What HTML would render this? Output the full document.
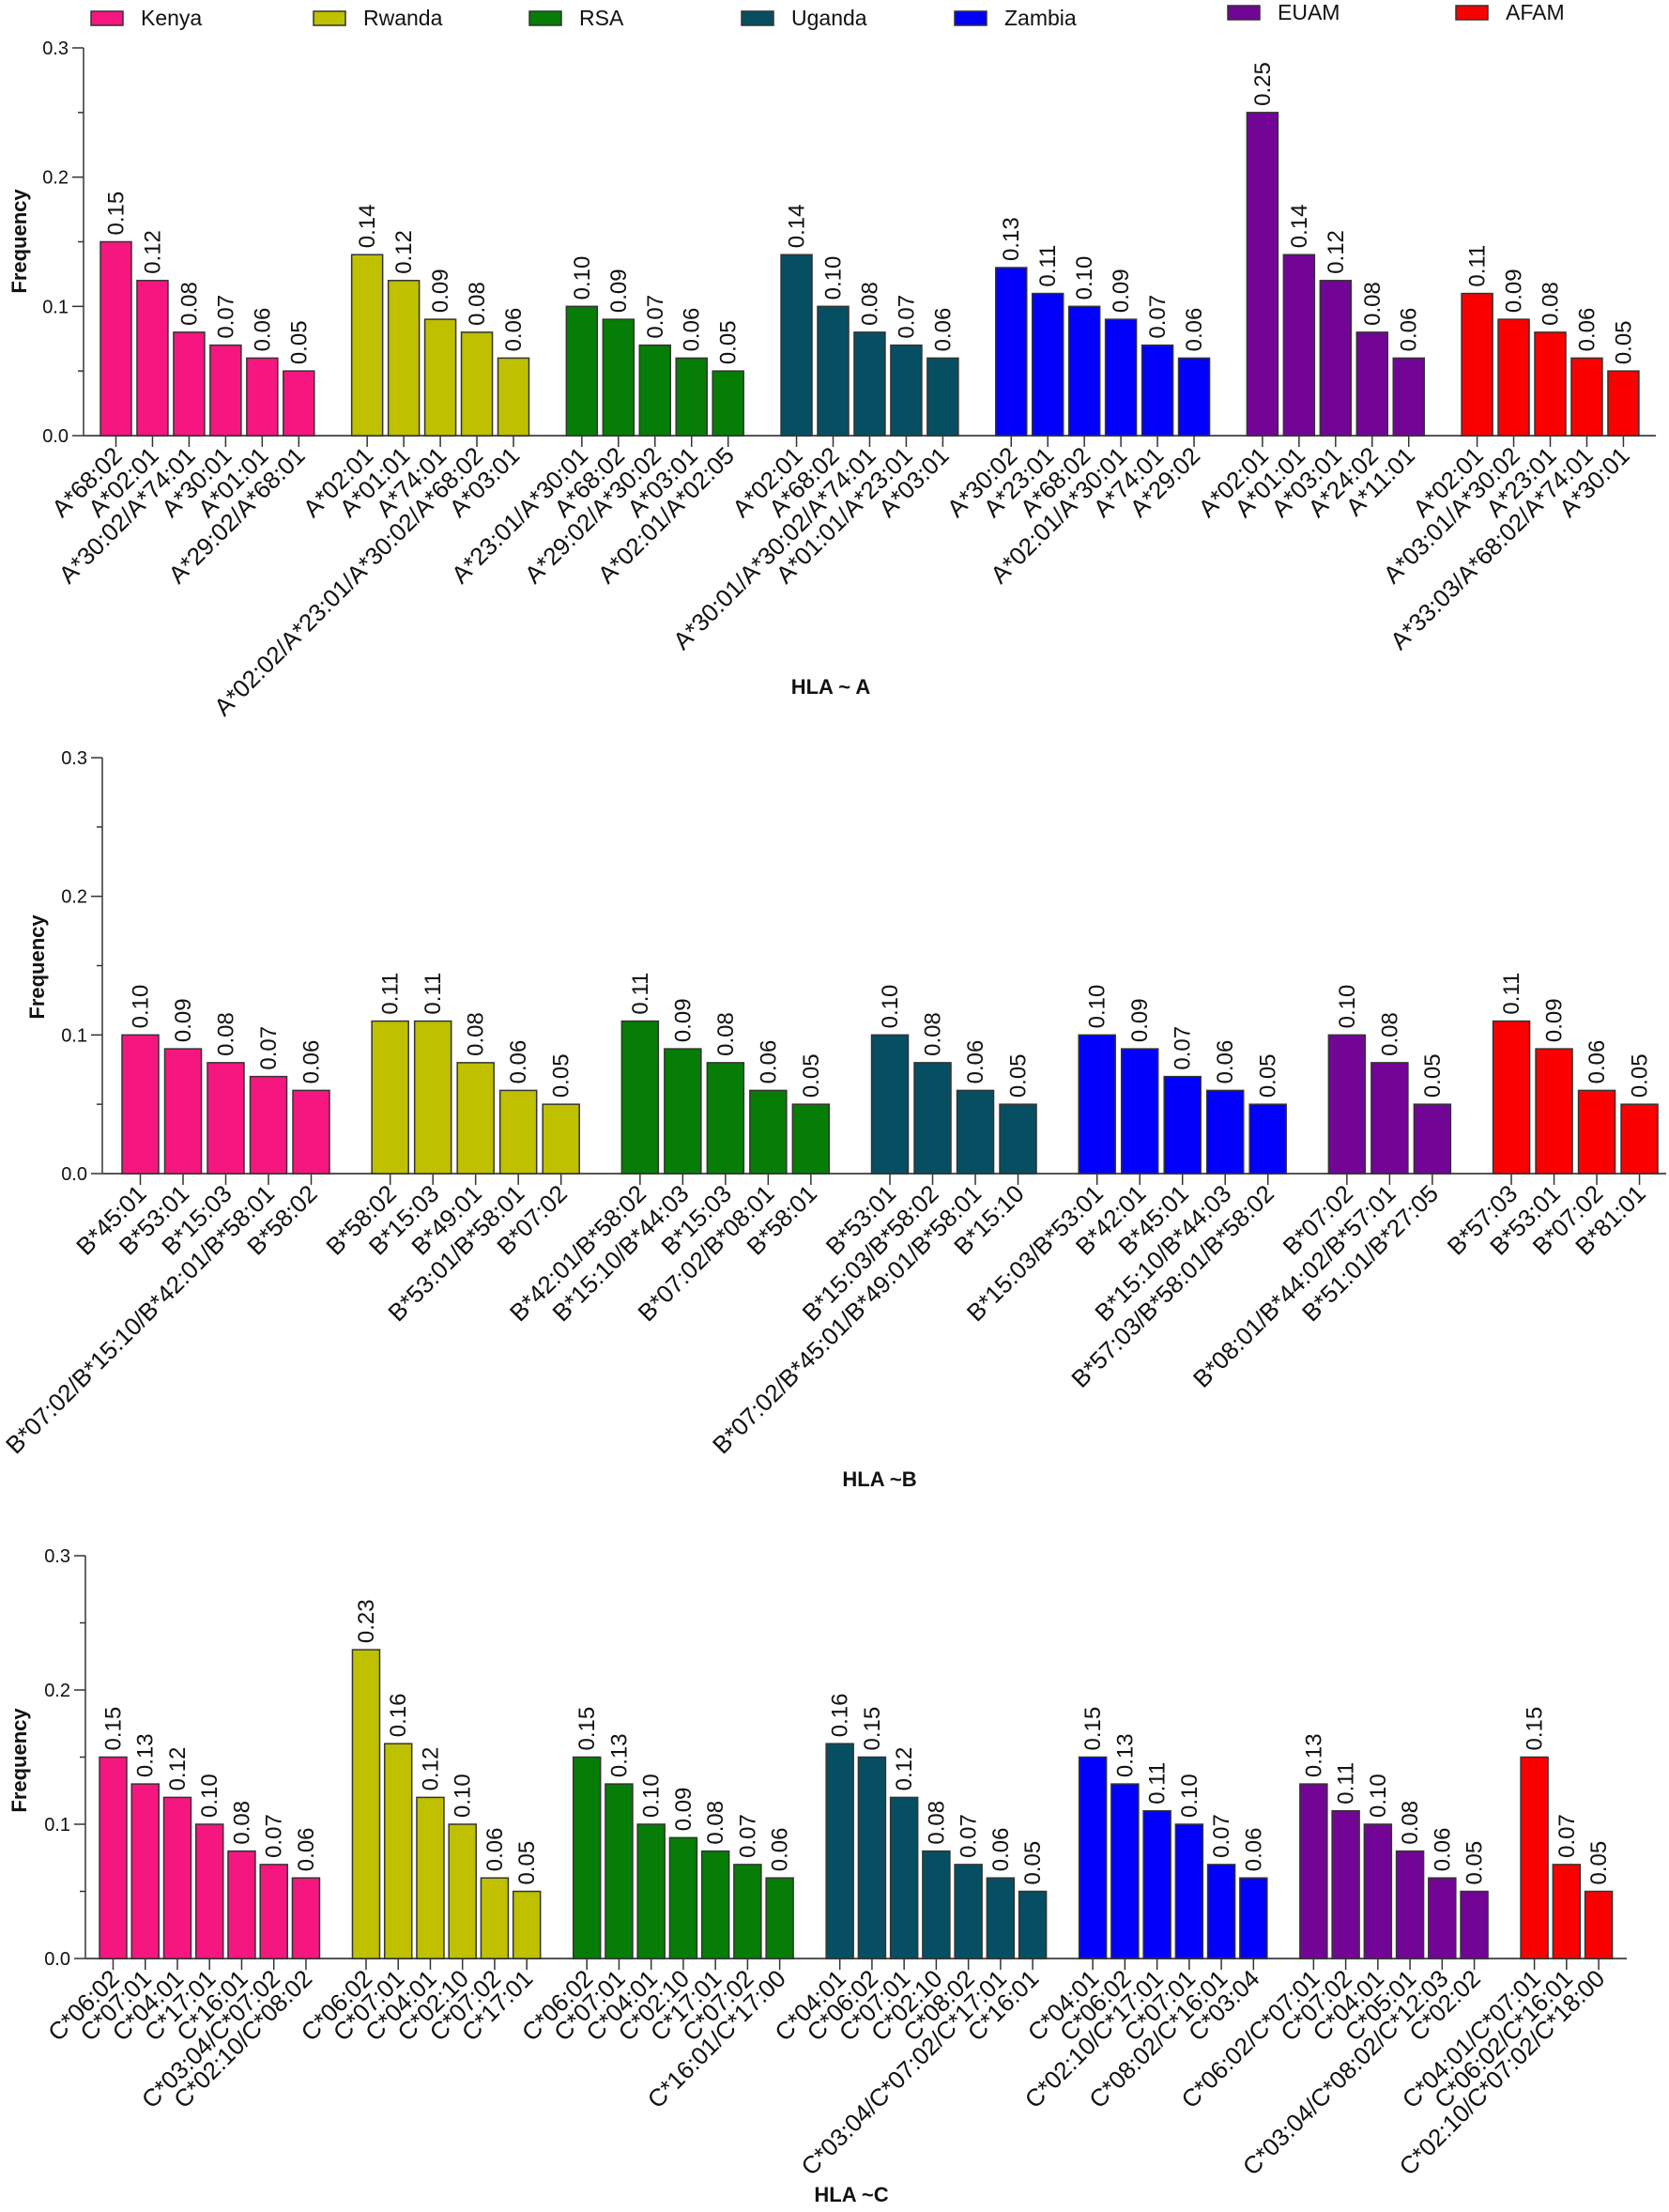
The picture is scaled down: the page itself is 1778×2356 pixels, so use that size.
<!DOCTYPE html>
<html>
<head>
<meta charset="utf-8">
<style>
  html,body{margin:0;padding:0;background:#fff;}
  svg{display:block;}
  text{font-family:"Liberation Sans",Arial,sans-serif;fill:#111;}
</style>
</head>
<body>
<svg id="chart" width="1778" height="2356" viewBox="0 0 1778 2356" xmlns="http://www.w3.org/2000/svg">
  <g id="legend"></g>
  <g id="panelA"></g>
  <g id="panelB"></g>
  <g id="panelC"></g>
</svg>
<script>
// ---------- shared data ----------
const populations = ["Kenya","Rwanda","RSA","Uganda","Zambia","EUAM","AFAM"];
const popColors = ["#f5177f","#bfc000","#067d06","#064f63","#0000fb","#720596","#fc0000"];
const yTickValues = [0.0, 0.1, 0.2, 0.3];
const yTickLabels = ["0.0","0.1","0.2","0.3"];

// ---------- HLA-A ----------
const aKenyaLabels = ["A*68:02","A*02:01","A*30:02/A*74:01","A*30:01","A*01:01","A*29:02/A*68:01"];
const aKenyaValues = [0.15,0.12,0.08,0.07,0.06,0.05];
const aRwandaLabels = ["A*02:01","A*01:01","A*74:01","A*02:02/A*23:01/A*30:02/A*68:02","A*03:01"];
const aRwandaValues = [0.14,0.12,0.09,0.08,0.06];
const aRSALabels = ["A*23:01/A*30:01","A*68:02","A*29:02/A*30:02","A*03:01","A*02:01/A*02:05"];
const aRSAValues = [0.10,0.09,0.07,0.06,0.05];
const aUgandaLabels = ["A*02:01","A*68:02","A*30:01/A*30:02/A*74:01","A*01:01/A*23:01","A*03:01"];
const aUgandaValues = [0.14,0.10,0.08,0.07,0.06];
const aZambiaLabels = ["A*30:02","A*23:01","A*68:02","A*02:01/A*30:01","A*74:01","A*29:02"];
const aZambiaValues = [0.13,0.11,0.10,0.09,0.07,0.06];
const aEUAMLabels = ["A*02:01","A*01:01","A*03:01","A*24:02","A*11:01"];
const aEUAMValues = [0.25,0.14,0.12,0.08,0.06];
const aAFAMLabels = ["A*02:01","A*03:01/A*30:02","A*23:01","A*33:03/A*68:02/A*74:01","A*30:01"];
const aAFAMValues = [0.11,0.09,0.08,0.06,0.05];

// ---------- HLA-B ----------
const bKenyaLabels = ["B*45:01","B*53:01","B*15:03","B*07:02/B*15:10/B*42:01/B*58:01","B*58:02"];
const bKenyaValues = [0.10,0.09,0.08,0.07,0.06];
const bRwandaLabels = ["B*58:02","B*15:03","B*49:01","B*53:01/B*58:01","B*07:02"];
const bRwandaValues = [0.11,0.11,0.08,0.06,0.05];
const bRSALabels = ["B*42:01/B*58:02","B*15:10/B*44:03","B*15:03","B*07:02/B*08:01","B*58:01"];
const bRSAValues = [0.11,0.09,0.08,0.06,0.05];
const bUgandaLabels = ["B*53:01","B*15:03/B*58:02","B*07:02/B*45:01/B*49:01/B*58:01","B*15:10"];
const bUgandaValues = [0.10,0.08,0.06,0.05];
const bZambiaLabels = ["B*15:03/B*53:01","B*42:01","B*45:01","B*15:10/B*44:03","B*57:03/B*58:01/B*58:02"];
const bZambiaValues = [0.10,0.09,0.07,0.06,0.05];
const bEUAMLabels = ["B*07:02","B*08:01/B*44:02/B*57:01","B*51:01/B*27:05"];
const bEUAMValues = [0.10,0.08,0.05];
const bAFAMLabels = ["B*57:03","B*53:01","B*07:02","B*81:01"];
const bAFAMValues = [0.11,0.09,0.06,0.05];

// ---------- HLA-C ----------
const cKenyaLabels = ["C*06:02","C*07:01","C*04:01","C*17:01","C*16:01","C*03:04/C*07:02","C*02:10/C*08:02"];
const cKenyaValues = [0.15,0.13,0.12,0.10,0.08,0.07,0.06];
const cRwandaLabels = ["C*06:02","C*07:01","C*04:01","C*02:10","C*07:02","C*17:01"];
const cRwandaValues = [0.23,0.16,0.12,0.10,0.06,0.05];
const cRSALabels = ["C*06:02","C*07:01","C*04:01","C*02:10","C*17:01","C*07:02","C*16:01/C*17:00"];
const cRSAValues = [0.15,0.13,0.10,0.09,0.08,0.07,0.06];
const cUgandaLabels = ["C*04:01","C*06:02","C*07:01","C*02:10","C*08:02","C*03:04/C*07:02/C*17:01","C*16:01"];
const cUgandaValues = [0.16,0.15,0.12,0.08,0.07,0.06,0.05];
const cZambiaLabels = ["C*04:01","C*06:02","C*02:10/C*17:01","C*07:01","C*08:02/C*16:01","C*03:04"];
const cZambiaValues = [0.15,0.13,0.11,0.10,0.07,0.06];
const cEUAMLabels = ["C*06:02/C*07:01","C*07:02","C*04:01","C*05:01","C*03:04/C*08:02/C*12:03","C*02:02"];
const cEUAMValues = [0.13,0.11,0.10,0.08,0.06,0.05];
const cAFAMLabels = ["C*04:01/C*07:01","C*06:02/C*16:01","C*02:10/C*07:02/C*18:00"];
const cAFAMValues = [0.15,0.07,0.05];

const NS = "http://www.w3.org/2000/svg";
function mk(tag, attrs, parent){
  const el = document.createElementNS(NS, tag);
  for (const k in attrs) el.setAttribute(k, attrs[k]);
  parent.appendChild(el);
  return el;
}

// ---------- legend ----------
const legendG = document.getElementById('legend');
const legendSwatchX = [97,334,564,790,1017,1308,1551];
const legendSwatchY = [12,12,12,12,12,6,6];
populations.forEach((p,i)=>{
  const g = mk('g',{},legendG);
  
  
  const r = mk('rect',{x:legendSwatchX[i],y:legendSwatchY[i],width:34,height:15,fill:popColors[i],stroke:'#333','stroke-width':1.5},g);
  
  
  const t = mk('text',{x:legendSwatchX[i]+53,y:legendSwatchY[i]+15,'font-size':23},g);
  
  
  t.textContent = p;
});

// ---------- panel renderer ----------
function drawPanel(gid, key, groupsLabels, groupsValues, L){
  const root = document.getElementById(gid);
  const yScale = v => L.y0 - (v/0.3)*(L.y0 - L.yTop);
  const ya = mk('line',{x1:L.axisX,y1:L.yTop,x2:L.axisX,y2:L.y0,stroke:'#333','stroke-width':1.5},root);
  
  
  yTickValues.forEach((v,i)=>{
    const y = yScale(v);
    mk('line',{x1:L.axisX-12,y1:y,x2:L.axisX,y2:y,stroke:'#333','stroke-width':1.5},root);
    const t = mk('text',{x:L.axisX-16,y:y+7,'font-size':20,'text-anchor':'end'},root);
    
    
    t.textContent = yTickLabels[i];
    if (i < yTickValues.length-1){
      const ym = yScale(v+0.05);
      mk('line',{x1:L.axisX-6,y1:ym,x2:L.axisX,y2:ym,stroke:'#333','stroke-width':1.5},root);
    }
  });
  const xa = mk('line',{x1:L.axisX,y1:L.y0,x2:L.axisEnd,y2:L.y0,stroke:'#555','stroke-width':2},root);
  
  
  const yt = mk('text',{x:L.freqX,y:L.freqY,'font-size':22,'font-weight':'bold','text-anchor':'middle',transform:`rotate(-90 ${L.freqX} ${L.freqY})`},root);
  
  
  yt.textContent = 'Frequency';
  const xt = mk('text',{x:L.titleX,y:L.titleY,'font-size':22,'font-weight':'bold','text-anchor':'middle'},root);
  
  
  xt.textContent = L.title;

  let idx = 0;
  groupsValues.forEach((vals, gi)=>{
    const gg = mk('g',{},root);
    
    
    vals.forEach((v, bi)=>{
      const left = L.firstLeft + (idx + gi*L.gap) * L.pitch;
      const cx = left + L.w/2;
      const top = yScale(v);
      const bar = mk('rect',{x:left,y:top,width:L.w,height:L.y0-top,fill:popColors[gi],stroke:'#333','stroke-width':1.5},gg);
      
      
      mk('line',{x1:cx,y1:L.y0,x2:cx,y2:L.y0+12,stroke:'#333','stroke-width':1.5},gg);
      const vl = mk('text',{x:cx+8,y:top-7,'font-size':24,transform:`rotate(-90 ${cx+8} ${top-7})`},gg);
      
      
      vl.textContent = v.toFixed(2);
      const lx = cx + 8, ly = L.y0 + 23;
      const tl = mk('text',{x:lx,y:ly,'font-size':26,'text-anchor':'end',transform:`rotate(-45 ${lx} ${ly})`},gg);
      
      
      tl.textContent = groupsLabels[gi][bi];
      idx++;
    });
  });
}

drawPanel('panelA','hla-a',
  [aKenyaLabels,aRwandaLabels,aRSALabels,aUgandaLabels,aZambiaLabels,aEUAMLabels,aAFAMLabels],
  [aKenyaValues,aRwandaValues,aRSAValues,aUgandaValues,aZambiaValues,aEUAMValues,aAFAMValues],
  {axisX:89,axisEnd:1764,yTop:51,y0:464,firstLeft:107,pitch:38.96,w:33,gap:0.87,
   freqX:28,freqY:257,titleX:885,titleY:739,title:'HLA ~ A'});

drawPanel('panelB','hla-b',
  [bKenyaLabels,bRwandaLabels,bRSALabels,bUgandaLabels,bZambiaLabels,bEUAMLabels,bAFAMLabels],
  [bKenyaValues,bRwandaValues,bRSAValues,bUgandaValues,bZambiaValues,bEUAMValues,bAFAMValues],
  {axisX:109,axisEnd:1775,yTop:807,y0:1250,firstLeft:130,pitch:45.5,w:39,gap:0.85,
   freqX:47,freqY:1030,titleX:937,titleY:1583,title:'HLA ~B'});

drawPanel('panelC','hla-c',
  [cKenyaLabels,cRwandaLabels,cRSALabels,cUgandaLabels,cZambiaLabels,cEUAMLabels,cAFAMLabels],
  [cKenyaValues,cRwandaValues,cRSAValues,cUgandaValues,cZambiaValues,cEUAMValues,cAFAMValues],
  {axisX:91,axisEnd:1733,yTop:1657,y0:2086,firstLeft:106,pitch:34.24,w:29,gap:0.87,
   freqX:28,freqY:1875,titleX:907,titleY:2345,title:'HLA ~C'});
</script>
</body>
</html>
